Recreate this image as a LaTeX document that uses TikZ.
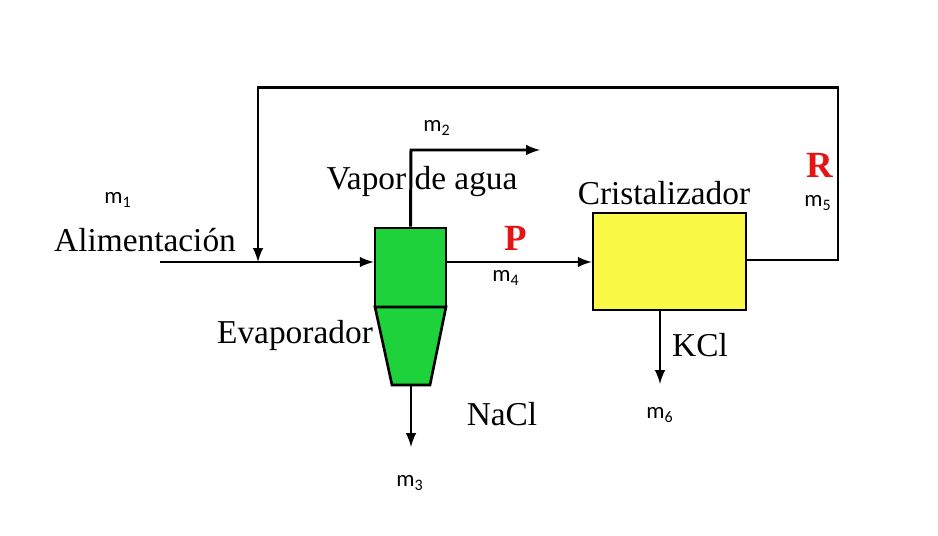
\documentclass[tikz,border=0pt]{standalone}
\usepackage{fontspec}
\setmainfont{Liberation Serif}
\newfontfamily\msans{Carlito}
\usetikzlibrary{positioning,calc}
\definecolor{evgreen}{RGB}{30,210,60}
\definecolor{cryellow}{RGB}{250,250,70}
\definecolor{labred}{RGB}{230,20,20}
\begin{document}
\begin{tikzpicture}[x=0.02cm,y=-0.02cm,thick,
    flow/.style={draw,line width=1.7pt,-latex},
    pipe/.style={draw,line width=1.7pt},
    txt/.style={font=\fontsize{19}{22}\selectfont,inner sep=1pt},
    mlab/.style={font=\msans\fontsize{13}{15}\selectfont,inner sep=1pt},
    rlab/.style={font=\bfseries\fontsize{21}{24}\selectfont,text=labred,inner sep=1pt}
  ]
  \useasboundingbox (0,0) rectangle (938,536);

  % the units
  \node[draw,line width=1.5pt,fill=evgreen,minimum width=1.42cm,minimum height=1.58cm,inner sep=0] (evap) at (410.5,267.5) {};
  \draw[line width=1.5pt,fill=evgreen] (375,307) -- (446,307) -- (430,385) -- (392,385) -- cycle;
  \coordinate (evout) at (411,385);
  \node[draw,line width=1.5pt,fill=cryellow,minimum width=3.06cm,minimum height=1.94cm,inner sep=0] (cryst) at (669.5,261.5) {};

  % points of the streams
  \coordinate (feed) at (160,262);
  \coordinate (mix) at (258,262);
  \coordinate (vapor) at (540,150);
  \coordinate (nacl) at (411,447);
  \coordinate (kcl) at (660,384);

  % the streams
  \draw[pipe] (feed) -- (mix);
  \draw[flow] (mix) -- (evap.west |- mix);
  \draw[flow] (evap.north) -- (411,150) -- (vapor);
  \draw[flow] (evout) -- (nacl);
  \draw[flow] (evap.east |- mix) -- (cryst.west |- mix);
  \draw[flow] (cryst.south -| kcl) -- (kcl);
  \draw[flow] (cryst.east |- 0,260) -- (838,260) -- (838,88) -- (258,88) -- (mix);

  % the labels
  \node[mlab] (m1) at (118,200) {m\textsubscript{1}};
  \node[txt] (alim) at (145,240) {Alimentación};
  \node[mlab] (m2) at (437,128) {m\textsubscript{2}};
  \node[txt] (vap) at (422,182) {Vapor de agua};
  \node[rlab] (p) at (516,238) {P};
  \node[mlab] (m4) at (506,278) {m\textsubscript{4}};
  \node[txt] (crl) at (664,193) {Cristalizador};
  \node[rlab] (r) at (820,165) {R};
  \node[mlab] (m5) at (818,203) {m\textsubscript{5}};
  \node[txt] (evl) at (295,335) {Evaporador};
  \node[txt] (kcll) at (700,345) {KCl};
  \node[txt] (nacll) at (502,414) {NaCl};
  \node[mlab] (m6) at (660,415) {m\textsubscript{6}};
  \node[mlab] (m3) at (410,483) {m\textsubscript{3}};
\end{tikzpicture}
\end{document}
